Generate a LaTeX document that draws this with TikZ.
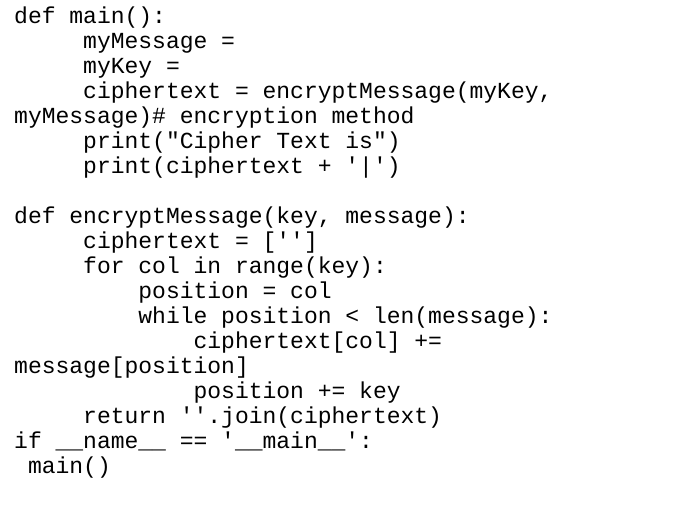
\documentclass[tikz,border=0pt]{standalone}
\usepackage{fontspec}
\setmonofont{Liberation Mono}
\begin{document}
\begin{tikzpicture}[x=1pt,y=-1pt,
  codeline/.style={anchor=base west,inner sep=0pt,font=\ttfamily\fontsize{23}{25}\selectfont}]
\useasboundingbox[fill=white] (0,0) rectangle (700,514);
\node[codeline] (l1) at (14,23) {def main():};
\node[codeline] (l2) at (14,48) {\ \ \ \ \ myMessage =};
\node[codeline] (l3) at (14,73) {\ \ \ \ \ myKey =};
\node[codeline] (l4) at (14,98) {\ \ \ \ \ ciphertext = encryptMessage(myKey,};
\node[codeline] (l5) at (14,123) {myMessage)\# encryption method};
\node[codeline] (l6) at (14,148) {\ \ \ \ \ print("Cipher Text is")};
\node[codeline] (l7) at (14,173) {\ \ \ \ \ print(ciphertext + '|')};
\node[codeline] (l8) at (14,223) {def encryptMessage(key, message):};
\node[codeline] (l9) at (14,248) {\ \ \ \ \ ciphertext = ['']};
\node[codeline] (l10) at (14,273) {\ \ \ \ \ for col in range(key):};
\node[codeline] (l11) at (14,298) {\ \ \ \ \ \ \ \ \ position = col};
\node[codeline] (l12) at (14,323) {\ \ \ \ \ \ \ \ \ while position < len(message):};
\node[codeline] (l13) at (14,348) {\ \ \ \ \ \ \ \ \ \ \ \ \ ciphertext[col] +=};
\node[codeline] (l14) at (14,373) {message[position]};
\node[codeline] (l15) at (14,398) {\ \ \ \ \ \ \ \ \ \ \ \ \ position += key};
\node[codeline] (l16) at (14,423) {\ \ \ \ \ return ''.join(ciphertext)};
\node[codeline] (l17) at (14,448) {if \_\_name\_\_ == '\_\_main\_\_':};
\node[codeline] (l18) at (14,473) {\ main()};
\end{tikzpicture}
\end{document}
